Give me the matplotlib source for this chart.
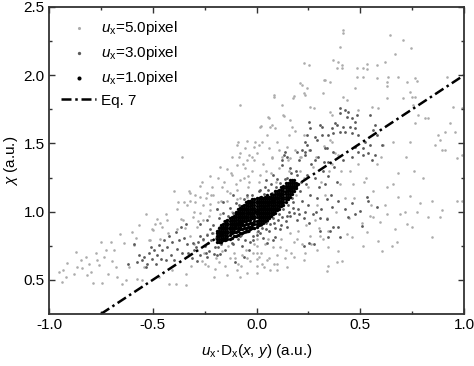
import numpy as np
import matplotlib
matplotlib.use('Agg')
import matplotlib.pyplot as plt

plt.rcParams['font.family'] = ['Liberation Sans', 'DejaVu Sans']
plt.rcParams['mathtext.fontset'] = 'custom'
plt.rcParams['mathtext.rm'] = 'Liberation Sans'
plt.rcParams['mathtext.it'] = 'Liberation Sans:italic'

# --- data (x = u_x*D_x, y = chi) ---
# u_x = 5.0 pixel (light grey cloud)
five_pts = [
    (-0.952, 0.556), (-0.933, 0.573), (-0.936, 0.487), (-0.912, 0.622), (-0.92, 0.52),
    (-0.88, 0.54), (-0.871, 0.707), (-0.863, 0.595), (-0.847, 0.645), (-0.84, 0.585),
    (-0.823, 0.67), (-0.815, 0.535), (-0.807, 0.62), (-0.8, 0.56), (-0.786, 0.475),
    (-0.775, 0.695), (-0.767, 0.645), (-0.759, 0.61), (-0.751, 0.78), (-0.743, 0.475),
    (-0.735, 0.67), (-0.727, 0.72), (-0.714, 0.545), (-0.703, 0.78), (-0.695, 0.635),
    (-0.687, 0.72), (-0.679, 0.595), (-0.671, 0.52), (-0.659, 0.835), (-0.647, 0.47),
    (-0.639, 0.77), (-0.63, 0.50), (-0.614, 0.595), (-0.598, 0.85), (-0.59, 0.755),
    (-0.579, 0.81), (-0.574, 0.51), (-0.566, 0.90), (-0.55, 0.50), (-0.542, 0.595),
    (-0.534, 0.985), (-0.518, 0.79), (-0.502, 0.875), (-0.489, 0.91), (-0.478, 0.945),
    (-0.47, 0.52), (-0.454, 0.885), (-0.435, 0.985), (-0.422, 0.47), (-0.406, 0.57),
    (-0.398, 1.153), (-0.39, 0.47), (-0.382, 1.02), (-0.365, 0.945), (-0.349, 1.07),
    (-0.341, 0.46), (-0.338, 0.54), (-0.357, 1.40), (-0.465, 0.915), (-0.433, 0.94),
    (-0.497, 0.865), (-0.513, 0.79), (-0.465, 0.80), (-0.425, 0.84), (-0.385, 0.87),
    (-0.353, 0.94), (-0.305, 0.96), (-0.272, 0.99), (-0.256, 0.94), (-0.224, 1.01),
    (-0.289, 0.89), (-0.32, 0.82), (-0.256, 0.79), (-0.208, 0.84), (-0.377, 1.07),
    (-0.337, 1.05), (-0.297, 1.07), (-0.32, 1.14), (-0.24, 1.14), (-0.208, 1.12),
    (-0.168, 1.18), (-0.128, 1.14), (-0.272, 1.19), (-0.224, 1.26), (-0.184, 1.25),
    (-0.12, 1.27), (-0.08, 1.23), (-0.04, 1.26), (-0.176, 1.33), (-0.144, 1.31),
    (-0.096, 1.34), (-0.056, 1.32), (-0.12, 1.40), (-0.08, 1.43), (-0.023, 1.40),
    (-0.088, 1.51), (-0.048, 1.52), (-0.007, 1.51), (0.05, 1.56), (0.02, 1.63),
    (0.057, 1.696), (0.073, 1.635), (0.129, 1.71), (-0.079, 1.78),
    (-0.319, 1.08), (-0.271, 1.105), (-0.223, 1.056), (-0.174, 0.983), (-0.142, 1.08),
    (-0.094, 1.09), (-0.046, 1.105), (-0.062, 1.03), (-0.182, 0.885), (-0.239, 0.836),
    (-0.303, 0.763), (-0.319, 0.69), (-0.263, 0.641), (-0.207, 0.523), (-0.142, 0.536),
    (-0.078, 0.523), (-0.046, 0.547), (-0.094, 0.572), (0.035, 0.596), (0.067, 0.572),
    (0.099, 0.62), (0.05, 0.645), (0.147, 0.596), (0.179, 0.665), (0.227, 0.645),
    (0.29, 0.72), (0.099, 0.572), (0.01, 0.67),
    (0.0, 0.55), (0.0, 0.60), (0.0, 0.65), (0.0, 0.70), (0.0, 0.75), (0.0, 0.80),
    (0.0, 0.85), (0.0, 0.90),
    (-0.30, 1.00), (-0.28, 0.93), (-0.26, 1.05), (-0.25, 0.62), (-0.23, 0.97),
    (-0.22, 1.12), (-0.20, 0.58), (-0.19, 1.02), (-0.18, 0.63), (-0.17, 1.08),
    (-0.15, 0.60), (-0.14, 1.15), (-0.13, 0.66), (-0.12, 1.00), (-0.11, 0.70),
    (-0.10, 1.20), (-0.09, 0.62), (-0.08, 1.10), (-0.07, 0.68), (-0.06, 1.25),
    (-0.05, 0.72), (-0.04, 1.18), (-0.03, 0.64), (-0.02, 1.30), (-0.01, 0.76),
    (0.01, 1.22), (0.02, 0.70), (0.03, 1.35), (0.04, 0.76), (0.05, 1.10),
    (0.06, 0.66), (0.07, 1.28), (0.08, 0.74), (0.09, 1.05), (0.10, 0.68),
    (0.11, 1.32), (0.12, 0.80), (0.13, 1.15), (0.14, 0.72), (0.15, 1.38),
    (0.16, 0.84), (0.17, 1.22), (0.18, 0.78), (0.19, 1.12), (0.20, 0.86),
    (0.21, 1.30), (0.22, 0.76), (0.23, 1.25), (0.24, 0.90), (0.25, 1.18),
    (0.26, 0.82), (0.27, 1.33), (0.28, 0.94), (0.29, 1.05), (0.30, 0.88),
    (0.31, 1.22), (0.32, 0.80), (0.33, 1.12), (0.34, 0.95), (0.35, 1.30),
    (-0.345, 0.88), (-0.325, 1.15), (-0.315, 0.60), (-0.295, 1.12), (-0.285, 0.72),
    (-0.265, 1.22), (-0.255, 0.70), (-0.245, 1.10), (-0.235, 0.60), (-0.215, 1.18),
    (-0.195, 0.66), (-0.185, 1.07), (-0.165, 0.71), (-0.155, 1.22), (-0.135, 0.75),
    (-0.125, 1.28), (-0.105, 0.66), (-0.095, 1.16), (-0.075, 0.60), (-0.065, 1.35),
    (-0.045, 0.66), (-0.035, 1.22), (-0.015, 0.70), (0.015, 1.27), (0.025, 0.62),
    (0.045, 1.30), (0.055, 0.80), (0.075, 1.40), (0.085, 0.62), (0.095, 1.22),
    (0.115, 0.74), (0.125, 1.40), (0.135, 0.66), (0.155, 1.30), (0.165, 0.70),
    (0.185, 1.45), (0.195, 0.80), (0.215, 1.40), (0.235, 0.70), (0.255, 1.45),
    (0.265, 0.76), (0.285, 1.40), (0.305, 0.82), (0.325, 1.48), (0.345, 0.86),
    (0.365, 1.35), (0.385, 1.00), (0.405, 1.30), (0.425, 1.10), (0.445, 0.95),
    (0.465, 1.20), (0.49, 1.35), (0.51, 0.92), (0.53, 1.25), (0.56, 1.15),
    (0.60, 1.40), (0.62, 1.05), (0.66, 1.20), (0.69, 0.98), (0.76, 1.30),
    (0.227, 2.086), (0.251, 2.074), (0.211, 1.94), (0.219, 1.928), (0.243, 1.904),
    (0.227, 1.867), (0.235, 1.855), (0.324, 1.965), (0.32, 1.872), (0.083, 1.855),
    (0.086, 1.838), (0.179, 1.848), (0.176, 1.831), (0.123, 1.782), (0.259, 1.77),
    (0.275, 1.757), (0.059, 1.684), (0.131, 1.704), (0.163, 1.672), (0.018, 1.623),
    (0.067, 1.623), (0.091, 1.611), (0.171, 1.623), (0.187, 1.591), (0.026, 1.513),
    (0.099, 1.513), (0.155, 1.562), (0.227, 1.562), (-0.094, 1.489), (-0.054, 1.465),
    (-0.014, 1.477), (0.01, 1.489), (0.059, 1.465), (0.107, 1.453), (0.147, 1.477),
    (-0.086, 1.404), (-0.038, 1.416), (0.002, 1.428), (-0.046, 1.379), (-0.014, 1.379),
    (0.075, 1.392), (0.163, 1.392), (0.211, 1.404),
    (0.418, 2.33), (0.418, 2.306), (0.643, 2.294), (0.708, 2.257), (0.744, 2.203),
    (0.402, 2.208), (0.37, 2.111), (0.394, 2.099), (0.41, 2.074), (0.386, 2.05),
    (0.41, 2.055), (0.483, 2.05), (0.515, 2.05), (0.531, 2.045), (0.531, 2.079),
    (0.579, 2.074), (0.619, 2.099), (0.667, 2.155), (0.483, 1.99), (0.515, 1.99),
    (0.579, 1.977), (0.635, 1.99), (0.683, 1.99), (0.764, 1.977), (0.772, 1.96),
    (0.627, 1.953), (0.627, 1.923), (0.724, 1.953), (0.916, 1.99), (0.354, 1.953),
    (0.33, 1.965), (0.475, 1.904), (0.74, 1.879), (0.748, 1.843), (0.764, 1.843),
    (0.708, 1.831), (0.627, 1.831), (0.418, 1.843), (0.434, 1.818), (0.555, 1.77),
    (0.948, 1.77), (0.989, 1.757), (0.354, 1.733), (0.362, 1.708), (0.491, 1.745),
    (0.587, 1.757), (0.756, 1.782), (0.78, 1.708), (0.812, 1.684), (0.828, 1.684),
    (0.764, 1.647), (0.932, 1.647), (0.956, 1.586), (0.908, 1.586), (0.876, 1.562),
    (0.884, 1.525), (0.86, 1.489), (0.892, 1.453), (0.908, 1.453), (0.74, 1.513),
    (0.659, 1.513), (0.611, 1.489), (0.989, 1.416), (0.965, 1.392), (0.354, 1.525),
    (0.362, 1.513), (0.378, 1.428), (0.394, 1.416),
    (0.346, 0.738), (0.394, 0.714), (0.386, 0.63), (0.41, 0.641), (0.346, 0.604),
    (0.338, 0.563), (0.434, 0.836), (0.459, 0.812), (0.515, 0.75), (0.531, 0.848),
    (0.547, 0.97), (0.563, 0.958), (0.587, 0.787), (0.595, 0.921), (0.603, 0.714),
    (0.627, 0.982), (0.651, 0.75), (0.667, 0.872), (0.675, 0.775), (0.683, 1.104),
    (0.716, 0.995), (0.724, 0.909), (0.748, 0.885), (0.772, 0.995), (0.788, 1.067),
    (0.828, 0.958), (0.844, 1.08), (0.844, 0.812), (0.884, 0.958), (0.892, 1.01),
    (0.965, 1.08), (0.989, 1.08), (0.74, 1.116),
    (0.45, 1.30), (0.52, 1.22), (0.58, 1.35), (0.63, 1.18), (0.68, 1.28),
    (0.72, 1.40), (0.80, 1.25), (0.47, 1.10), (0.55, 1.05), (0.40, 1.20),
]

# u_x = 3.0 pixel (dark grey cloud)
three_pts = [
    (-0.619, 0.615), (-0.578, 0.63), (-0.566, 0.68), (-0.55, 0.645), (-0.542, 0.67),
    (-0.526, 0.62), (-0.518, 0.695), (-0.51, 0.74), (-0.502, 0.655), (-0.494, 0.72),
    (-0.486, 0.62), (-0.478, 0.68), (-0.47, 0.755), (-0.462, 0.655), (-0.454, 0.72),
    (-0.446, 0.79), (-0.438, 0.645), (-0.43, 0.74), (-0.422, 0.825), (-0.414, 0.68),
    (-0.406, 0.78), (-0.398, 0.645), (-0.39, 0.85), (-0.382, 0.73), (-0.373, 0.79),
    (-0.365, 0.885), (-0.357, 0.695), (-0.349, 0.81), (-0.341, 0.91), (-0.333, 0.765),
    (-0.59, 0.765), (-0.534, 0.595),
    (-0.287, 0.64), (-0.239, 0.665), (-0.174, 0.69), (-0.102, 0.63), (-0.062, 0.665),
    (-0.038, 0.72), (0.05, 0.77), (0.09, 0.817), (0.147, 0.89), (0.195, 0.94),
    (0.227, 0.745), (0.251, 0.77), (0.275, 0.76), (0.308, 0.855),
    (0.137, 1.44), (0.121, 1.34), (0.161, 1.32), (0.08, 1.27), (0.145, 1.25),
    (0.048, 1.23), (0.193, 1.27), (0.016, 1.16), (-0.048, 1.12), (-0.016, 1.07),
    (-0.08, 1.04), (-0.112, 0.99), (-0.144, 0.94), (-0.176, 0.89), (-0.224, 0.87),
    (-0.272, 0.82), (-0.305, 0.77), (-0.112, 1.12), (-0.16, 1.07), (-0.192, 1.02),
    (-0.24, 0.94), (-0.272, 0.91), (0.113, 1.12), (0.177, 1.07), (0.08, 1.02),
    (0.145, 0.97), (0.048, 0.92), (0.113, 0.87), (0.016, 0.84), (-0.016, 0.79),
    (0.08, 0.79), (-0.048, 0.87), (-0.08, 0.82),
    (-0.30, 0.72), (-0.28, 0.78), (-0.27, 0.68), (-0.25, 0.75), (-0.24, 0.83),
    (-0.23, 0.71), (-0.22, 0.79), (-0.21, 0.90), (-0.20, 0.74), (-0.19, 0.68),
    (-0.18, 0.95), (-0.17, 0.76), (-0.16, 0.99), (-0.15, 0.72), (-0.14, 0.88),
    (-0.13, 1.03), (-0.12, 0.77), (-0.11, 0.93), (-0.10, 1.06), (-0.09, 0.80),
    (-0.08, 0.97), (-0.07, 0.75), (-0.06, 1.09), (-0.05, 0.85), (-0.04, 1.01),
    (-0.03, 0.78), (-0.02, 1.12), (-0.01, 0.88), (0.00, 0.83), (0.01, 1.15),
    (0.02, 0.90), (0.03, 0.81), (0.04, 1.18), (0.05, 0.93), (0.06, 0.86),
    (0.07, 1.20), (0.08, 0.95), (0.09, 0.88), (0.10, 1.24), (0.11, 0.98),
    (0.12, 0.90), (0.13, 1.02), (0.14, 0.93), (0.15, 1.05), (0.16, 0.97),
    (0.17, 1.10), (0.18, 0.99), (0.19, 1.30), (0.20, 1.02), (0.21, 1.15),
    (0.22, 1.08), (0.23, 0.95), (0.24, 1.20), (0.25, 1.05), (0.26, 1.12),
    (0.27, 0.98), (0.28, 1.25), (0.29, 1.10), (0.30, 1.18), (0.31, 1.02),
    (-0.33, 0.70), (-0.31, 0.66), (-0.29, 0.74), (-0.26, 0.80), (-0.245, 0.70),
    (-0.235, 0.77), (-0.215, 0.84), (-0.205, 0.69), (-0.195, 0.81), (-0.185, 0.74),
    (-0.165, 0.83), (-0.155, 0.93), (-0.145, 0.79), (-0.135, 0.97), (-0.125, 0.84),
    (-0.115, 0.76), (-0.105, 0.99), (-0.095, 0.86), (-0.085, 1.05), (-0.075, 0.83),
    (-0.065, 1.02), (-0.055, 0.79), (-0.045, 1.07), (-0.035, 0.86), (-0.025, 1.05),
    (-0.015, 0.82), (-0.005, 1.09), (0.005, 0.86), (0.015, 1.11), (0.025, 0.88),
    (0.035, 1.13), (0.045, 0.87), (0.055, 1.16), (0.065, 0.91), (0.075, 1.14),
    (0.085, 0.92), (0.095, 1.18), (0.105, 0.94), (0.115, 1.21), (0.125, 0.96),
    (0.135, 1.24), (0.155, 1.00), (0.165, 1.28), (0.175, 1.03), (0.185, 1.18),
    (0.205, 0.98), (0.215, 1.22), (0.235, 1.00), (0.245, 1.27), (0.255, 0.92),
    (0.265, 1.35), (0.285, 1.00), (0.295, 1.40), (0.305, 0.95), (0.32, 1.30),
    (0.33, 1.20), (0.345, 1.26), (0.36, 1.12), (0.375, 1.33), (0.39, 1.22),
    (0.251, 1.66), (0.259, 1.611), (0.308, 1.635), (0.316, 1.623), (0.243, 1.562),
    (0.283, 1.55), (0.291, 1.525), (0.316, 1.562), (0.235, 1.513), (0.243, 1.489),
    (0.195, 1.44), (0.219, 1.453), (0.235, 1.44), (0.259, 1.453), (0.131, 1.416),
    (0.147, 1.404), (0.235, 1.416), (0.283, 1.379), (0.123, 1.379), (0.203, 1.379),
    (0.324, 1.367), (0.332, 1.465),
    (0.402, 1.757), (0.426, 1.745), (0.442, 1.733), (0.483, 1.708), (0.402, 1.72),
    (0.434, 1.696), (0.458, 1.684), (0.475, 1.66), (0.378, 1.647), (0.386, 1.635),
    (0.362, 1.611), (0.418, 1.623), (0.45, 1.623), (0.475, 1.611), (0.402, 1.586),
    (0.426, 1.586), (0.458, 1.574), (0.346, 1.562), (0.37, 1.574), (0.49, 1.562),
    (0.547, 1.708), (0.571, 1.635), (0.579, 1.562), (0.563, 1.598), (0.523, 1.513),
    (0.547, 1.489), (0.515, 1.465), (0.539, 1.428), (0.515, 1.416), (0.475, 1.477),
    (0.491, 1.44), (0.571, 1.416), (0.338, 1.465), (0.37, 1.44), (0.458, 1.404),
    (0.418, 1.379), (0.346, 1.367), (0.555, 1.379), (0.603, 1.489),
    (0.338, 1.092), (0.362, 1.031), (0.394, 1.08), (0.426, 1.018), (0.459, 1.067),
    (0.475, 0.982), (0.499, 1.006), (0.507, 0.897), (0.539, 1.08), (0.531, 1.104),
    (0.579, 1.031), (0.37, 0.885), (0.402, 0.812), (0.354, 0.86), (0.338, 0.946),
    (0.394, 0.885), (0.346, 0.812), (0.442, 0.958),
]

# u_x = 1.0 pixel (tight black cloud): x column and the y values seen there
one_cols = [
    (-0.19, [0.78, 0.80, 0.82, 0.84, 0.86]),
    (-0.18, [0.78, 0.80, 0.82, 0.84, 0.86, 0.88]),
    (-0.17, [0.78, 0.80, 0.82, 0.84, 0.86, 0.88, 0.90]),
    (-0.16, [0.79, 0.81, 0.83, 0.85, 0.87, 0.89, 0.91]),
    (-0.15, [0.79, 0.81, 0.83, 0.85, 0.87, 0.89, 0.91, 0.93]),
    (-0.14, [0.80, 0.82, 0.84, 0.86, 0.88, 0.90, 0.92, 0.94]),
    (-0.13, [0.80, 0.83, 0.85, 0.87, 0.89, 0.91, 0.93, 0.95]),
    (-0.12, [0.81, 0.84, 0.86, 0.88, 0.90, 0.92, 0.94, 0.96]),
    (-0.11, [0.82, 0.85, 0.87, 0.89, 0.91, 0.93, 0.95, 0.97]),
    (-0.10, [0.82, 0.85, 0.88, 0.90, 0.92, 0.94, 0.96, 0.98, 1.00]),
    (-0.09, [0.83, 0.86, 0.88, 0.90, 0.92, 0.94, 0.96, 0.98, 1.00, 1.02]),
    (-0.08, [0.84, 0.87, 0.89, 0.91, 0.93, 0.95, 0.97, 0.99, 1.01, 1.03]),
    (-0.07, [0.84, 0.87, 0.90, 0.92, 0.94, 0.96, 0.98, 1.00, 1.02, 1.04]),
    (-0.06, [0.85, 0.88, 0.90, 0.93, 0.95, 0.97, 0.99, 1.01, 1.03, 1.05]),
    (-0.05, [0.86, 0.88, 0.91, 0.93, 0.95, 0.97, 0.99, 1.01, 1.03, 1.05, 1.07]),
    (-0.04, [0.86, 0.89, 0.91, 0.94, 0.96, 0.98, 1.00, 1.02, 1.04, 1.06, 1.08]),
    (-0.03, [0.87, 0.89, 0.92, 0.94, 0.96, 0.98, 1.00, 1.02, 1.04, 1.06, 1.08]),
    (-0.02, [0.88, 0.90, 0.92, 0.95, 0.97, 0.99, 1.01, 1.03, 1.05, 1.07, 1.09]),
    (-0.01, [0.88, 0.91, 0.93, 0.95, 0.97, 0.99, 1.01, 1.03, 1.05, 1.07, 1.09]),
    (0.00, [0.89, 0.91, 0.93, 0.96, 0.98, 1.00, 1.02, 1.04, 1.06, 1.08, 1.10]),
    (0.01, [0.90, 0.92, 0.94, 0.96, 0.98, 1.00, 1.02, 1.04, 1.06, 1.08, 1.10]),
    (0.02, [0.91, 0.93, 0.95, 0.97, 0.99, 1.01, 1.03, 1.05, 1.07, 1.09, 1.11]),
    (0.03, [0.92, 0.94, 0.96, 0.98, 1.00, 1.02, 1.04, 1.06, 1.08, 1.10]),
    (0.04, [0.93, 0.95, 0.97, 0.99, 1.01, 1.03, 1.05, 1.07, 1.09, 1.11]),
    (0.05, [0.94, 0.96, 0.98, 1.00, 1.02, 1.04, 1.06, 1.08, 1.10, 1.12]),
    (0.06, [0.95, 0.97, 0.99, 1.01, 1.03, 1.05, 1.07, 1.09, 1.11]),
    (0.07, [0.97, 0.99, 1.01, 1.03, 1.05, 1.07, 1.09, 1.11, 1.13]),
    (0.08, [0.98, 1.00, 1.02, 1.04, 1.06, 1.08, 1.10, 1.12]),
    (0.09, [0.99, 1.01, 1.03, 1.05, 1.07, 1.09, 1.11, 1.13, 1.15]),
    (0.10, [1.01, 1.03, 1.05, 1.07, 1.09, 1.11, 1.13, 1.15]),
    (0.11, [1.02, 1.04, 1.06, 1.08, 1.10, 1.12, 1.14, 1.16]),
    (0.12, [1.04, 1.06, 1.08, 1.10, 1.12, 1.14, 1.16, 1.18]),
    (0.13, [1.05, 1.07, 1.09, 1.11, 1.13, 1.15, 1.17, 1.19]),
    (0.14, [1.07, 1.09, 1.11, 1.13, 1.15, 1.17, 1.19, 1.21]),
    (0.15, [1.09, 1.11, 1.13, 1.15, 1.17, 1.19, 1.21]),
    (0.16, [1.11, 1.13, 1.15, 1.17, 1.19, 1.21, 1.23]),
    (0.17, [1.13, 1.15, 1.17, 1.19, 1.21, 1.23]),
    (0.18, [1.15, 1.17, 1.19, 1.21, 1.23]),
    (0.19, [1.17, 1.19, 1.21]),
    (0.20, [1.20]),
]

# Eq. 7 line end points
eq7_x = [-0.75, 1.0]
eq7_y = [0.25, 2.0]

labels = [r'$u_\mathrm{x}$=5.0pixel', r'$u_\mathrm{x}$=3.0pixel',
          r'$u_\mathrm{x}$=1.0pixel', 'Eq. 7']

five = np.array(five_pts)
three = np.array(three_pts)
one_x = np.concatenate([[x] * len(ys) for x, ys in one_cols])
one_y = np.concatenate([ys for x, ys in one_cols])

fig = plt.figure(figsize=(4.74, 3.66), dpi=100)
ax = fig.add_axes([49 / 474, 1 - 314 / 366, 415 / 474, 307 / 366])

ax.scatter(five[:, 0], five[:, 1], s=3.5, c='#acacac', linewidths=0, label=labels[0])
ax.scatter(three[:, 0], three[:, 1], s=4, c='#5a5a5a', linewidths=0, label=labels[1])
ax.scatter(one_x, one_y, s=6, c='black', linewidths=0, label=labels[2])
ax.plot(eq7_x, eq7_y, color='black', lw=1.8, linestyle=(0, (4, 1.5, 1, 1.5)),
        label=labels[3])

ax.set_xlim(-1.0, 1.0)
ax.set_ylim(0.25, 2.5)
ax.set_xticks([-1.0, -0.5, 0.0, 0.5, 1.0])
ax.set_xticks([-0.75, -0.25, 0.25, 0.75], minor=True)
ax.set_yticks([0.5, 1.0, 1.5, 2.0, 2.5])
ax.set_yticks([0.75, 1.25, 1.75, 2.25], minor=True)
ax.set_xticklabels(['-1.0', '-0.5', '0.0', '0.5', '1.0'])
ax.tick_params(which='both', direction='in', top=True, right=True,
               labelsize=11, color='#333333', width=1)
ax.tick_params(which='major', length=4.5, pad=3)
ax.tick_params(which='minor', length=2.5)
for sp in ax.spines.values():
    sp.set_linewidth(1.3)
    sp.set_color('#333333')

ax.set_xlabel(r'$u_\mathrm{x}\!\cdot\!\mathrm{D}_\mathrm{x}(x,\,y)$ (a.u.)', fontsize=11,
              labelpad=7)
ax.set_ylabel(r'$\chi$ (a.u.)', fontsize=11, labelpad=3)

leg = ax.legend(loc='upper left', frameon=False, fontsize=11, markerscale=1.2,
                labelspacing=0.45, handlelength=2.3, handletextpad=0.3,
                borderaxespad=0.4)

fig.savefig('out.png', dpi=100)
